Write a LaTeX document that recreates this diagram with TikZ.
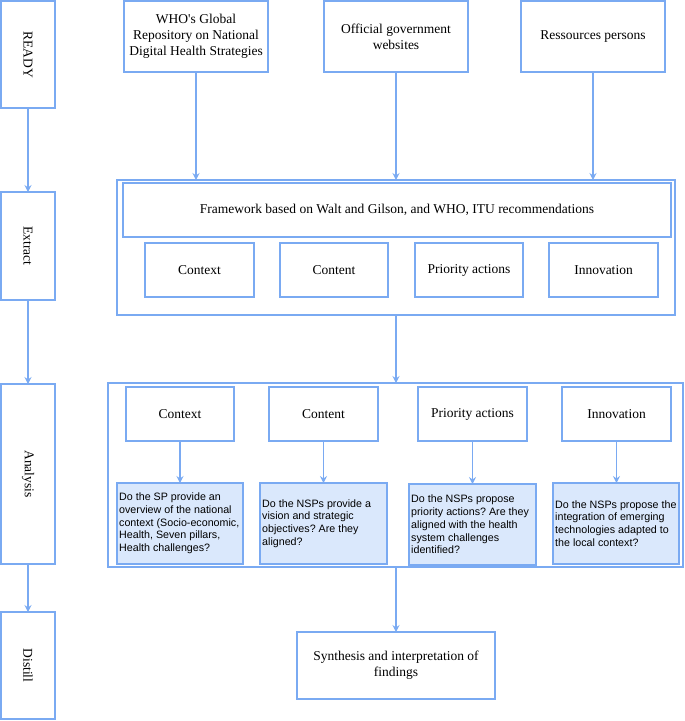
\documentclass[tikz,border=0pt]{standalone}
\usepackage{fontspec}
\setmainfont{Liberation Serif}[Ligatures=TeXOff]
\newfontfamily\qfont{Liberation Sans}
\usetikzlibrary{arrows.meta}
\definecolor{lineblue}{HTML}{7AAAF2}
\definecolor{fillblue}{HTML}{DAE8FC}
\tikzset{
  box/.style={draw=lineblue, line width=1.2pt, fill=white, inner sep=0pt, outer sep=0pt, align=center,
    font=\fontsize{13.5}{16.2}\selectfont},
  framebox/.style={draw=lineblue, line width=1.2pt, inner sep=0pt, outer sep=0pt},
  qbox/.style={draw=lineblue, line width=1.2pt, fill=fillblue, inner sep=0pt, outer sep=0pt},
  qtext/.style={anchor=west, inner sep=0pt, align=left, font=\qfont\frenchspacing\fontsize{10.7}{12.7}\selectfont},
  arr/.style={draw=lineblue, line width=1.2pt, -{Stealth[length=7pt,width=7pt,inset=2.5pt]}},
  sidelabel/.style={rotate=-90, font=\fontsize{13.5}{16.2}\selectfont}
}
\begin{document}
\begin{tikzpicture}[x=1pt,y=-1pt]
\useasboundingbox (0,0) rectangle (685,721);
% left column
\node[box, minimum width=54, minimum height=107] (ready) at (28,54.5) {};
\node[sidelabel] at (ready.center) {READY};
\node[box, minimum width=54, minimum height=108] (extract) at (28,246) {};
\node[sidelabel] at (extract.center) {Extract};
\node[box, minimum width=54, minimum height=180] (analysis) at (28,474) {};
\node[sidelabel] at (analysis.center) {Analysis};
\node[box, minimum width=54, minimum height=107] (distill) at (28,665.5) {};
\node[sidelabel] at (distill.center) {Distill};
\draw[arr] (ready.south) -- (extract.north);
\draw[arr] (extract.south) -- (analysis.north);
\draw[arr] (analysis.south) -- (distill.north);
% sources
\node[box, minimum width=144, minimum height=71] (who) at (196,36.5) {WHO's Global\\Repository on National\\Digital Health Strategies};
\node[box, minimum width=144, minimum height=71] (gov) at (396,36.5) {Official government\\websites};
\node[box, minimum width=144, minimum height=71] (res) at (593,36.5) {Ressources persons};
% framework
\node[framebox, minimum width=558, minimum height=135] (fwouter) at (396,247.5) {};
\node[box, minimum width=548, minimum height=54] (fwinner) at (397,210) {Framework based on Walt and Gilson, and WHO, ITU recommendations};
\node[box, minimum width=109, minimum height=54] (ctx1) at (199.5,270) {Context};
\node[box, minimum width=108, minimum height=54] (cnt1) at (334,270) {Content};
\node[box, minimum width=108, minimum height=54] (pri1) at (469,270) {Priority actions};
\node[box, minimum width=109, minimum height=54] (inn1) at (603.5,270) {Innovation};
\draw[arr] (who.south) -- (who.south |- fwouter.north);
\draw[arr] (gov.south) -- (gov.south |- fwouter.north);
\draw[arr] (res.south) -- (res.south |- fwouter.north);
% analysis
\node[framebox, minimum width=575, minimum height=184] (anouter) at (395.5,475) {};
\node[box, minimum width=108, minimum height=54] (ctx2) at (180,414) {Context};
\node[box, minimum width=109, minimum height=54] (cnt2) at (323.5,414) {Content};
\node[box, minimum width=109, minimum height=54] (pri2) at (472.5,414) {Priority actions};
\node[box, minimum width=109, minimum height=54] (inn2) at (616.5,414) {Innovation};
\node[qbox, minimum width=126, minimum height=81] (q1) at (180,523.5) {};
\node[qtext] (q1t) at ([xshift=2pt]q1.west) {Do the SP provide an\\overview of the national\\context (Socio-economic,\\Health, Seven pillars,\\Health challenges?};
\node[qbox, minimum width=127, minimum height=81] (q2) at (323.5,523.5) {};
\node[qtext] (q2t) at ([xshift=2pt]q2.west) {Do the NSPs provide a\\vision and strategic\\objectives? Are they\\aligned?};
\node[qbox, minimum width=127, minimum height=81] (q3) at (472.5,524.5) {};
\node[qtext] (q3t) at ([xshift=2pt]q3.west) {Do the NSPs propose\\priority actions? Are they\\aligned with the health\\system challenges\\identified?};
\node[qbox, minimum width=126, minimum height=81] (q4) at (616,523.5) {};
\node[qtext] (q4t) at ([xshift=2pt]q4.west) {Do the NSPs propose the\\integration of emerging\\technologies adapted to\\the local context?};
\draw[arr] (ctx2.south) -- (q1.north -| ctx2.south);
\draw[arr] (cnt2.south) -- (q2.north -| cnt2.south);
\draw[arr] (pri2.south) -- (q3.north -| pri2.south);
\draw[arr] (inn2.south) -- (q4.north -| inn2.south);
\draw[arr] (fwouter.south) -- (fwouter.south |- anouter.north);
% synthesis
\node[box, minimum width=198, minimum height=67] (synth) at (396,665.5) {Synthesis and interpretation of\\findings};
\draw[arr] (anouter.south -| synth.north) -- (synth.north);
\end{tikzpicture}
\end{document}
